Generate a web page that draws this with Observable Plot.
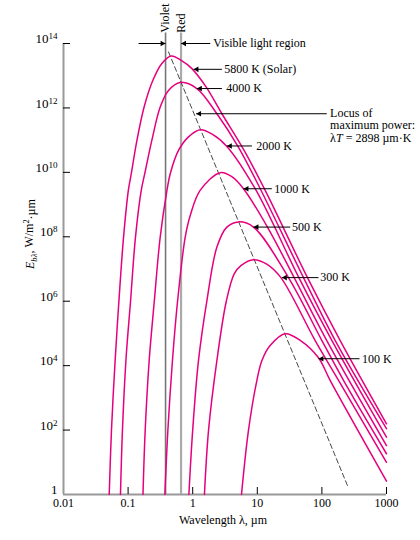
<!DOCTYPE html>
<html>
<head>
<meta charset="utf-8">
<script src="https://cdn.jsdelivr.net/npm/d3@7"></script>
<script src="https://cdn.jsdelivr.net/npm/@observablehq/plot@0.6"></script>
<style>
  body { margin: 0; background: #fff; }
</style>
</head>
<body>
<div id="chart"></div>
<script>
// Curvas de emisión: longitud de onda en µm, potencia espectral
const lam5800 = [0.051, 0.0553, 0.063, 0.072, 0.085, 0.101, 0.112, 0.137, 0.177, 0.242, 0.333, 0.464, 0.664, 0.972, 1.62, 2.83, 6.5, 13.2, 59.8, 192, 1000]
const e5800 = [1, 1e2, 1.45e4, 9.8e5, 9.6e7, 2.8e9, 9.1e9, 9.8e10, 1.07e12, 7.2e12, 2.4e13, 4.1e13, 3.0e13, 1.66e13, 4.4e12, 6.6e11, 4.2e10, 2.8e9, 5.4e6, 6.0e4, 157]

const lam4000 = [0.0762, 0.0818, 0.0925, 0.109, 0.130, 0.160, 0.181, 0.233, 0.314, 0.422, 0.64, 1.16, 2.37, 5.12, 11.1, 51.9, 161, 1000]
const e4000 = [1, 1e2, 1.45e4, 9.8e5, 9.6e7, 2.8e9, 9.1e9, 9.8e10, 1.07e12, 3.5e12, 6.2e12, 4.0e12, 6.6e11, 6.0e10, 3.1e9, 5.4e6, 6.0e4, 110]

const lam2000 = [0.17, 0.184, 0.212, 0.254, 0.314, 0.40, 0.449, 0.603, 0.861, 1.31, 2.0, 3.38, 9.27, 44, 143, 1000]
const e2000 = [1, 1e2, 1.45e4, 9.6e5, 9.8e7, 2.8e9, 9.1e9, 4.8e10, 1.26e11, 2.1e11, 1.54e11, 6.4e10, 3.1e9, 5.4e6, 6.0e4, 60]

const lam1000 = [0.371, 0.413, 0.486, 0.582, 0.766, 0.928, 1.31, 2.67, 4.08, 6.11, 14.8, 37.2, 119, 1000]
const e1000 = [1, 1e2, 1.45e4, 9.6e5, 9.8e7, 5.0e8, 2.8e9, 9.8e9, 7.2e9, 3.1e9, 1.8e8, 5.4e6, 6.0e4, 33]

const lam500 = [0.873, 1.0, 1.23, 1.66, 2.37, 3.38, 5.12, 8.73, 30.4, 100, 216, 1000]
const e500 = [1, 1e2, 1.45e4, 1.05e6, 4.8e7, 2.0e8, 2.9e8, 2.0e8, 5.4e6, 6.0e4, 3.5e3, 18.4]

const lam300 = [1.52, 1.76, 2.37, 3.30, 4.39, 5.63, 8.73, 14.2, 23.2, 78.7, 181, 1000]
const e300 = [1, 1e2, 1.45e4, 9.6e5, 7.1e6, 1.3e7, 1.95e7, 1.4e7, 5.4e6, 6.0e4, 3.5e3, 10]

const lam100 = [5.69, 7.31, 9.86, 11.8, 15.8, 27.0, 46.1, 88.5, 134, 1000]
const e100 = [1, 1e2, 3.5e3, 1.45e4, 4.2e4, 9.8e4, 6.1e4, 1.76e4, 3.5e3, 2.6]

// Lugar geométrico del máximo (λT = 2898 µm·K)
const locusLam = [0.422, 252]
const locusE = [5.5e13, 1.78]

// Región visible
const bandNames = ['Violet', 'Red']
const bandLam = [0.38, 0.66]
const bandColor = ['#777', '#aaa']

// Etiquetas de las curvas con flechas
const curveNames = ['5800 K (Solar)', '4000 K', '2000 K', '1000 K', '500 K', '300 K', '100 K']
const curveLabelE = [1.58e13, 4.0e12, 6.6e10, 3.1e9, 2.0e8, 5.4e6, 1.64e4]
const arrowTip = [1.03, 1.16, 3.38, 6.11, 8.73, 24.0, 88.5]
const arrowTail = [2.83, 2.83, 8.25, 16.8, 32.3, 88.5, 382]
const labelLam = [3.07, 3.30, 9.6, 18.3, 34.3, 94, 416]

// Ejes
const xTickVals = [0.1, 1, 10, 100, 1000]
const xLabelVals = [0.01, 0.1, 1, 10, 100, 1000]
const yTickVals = [1e2, 1e4, 1e6, 1e8, 1e10, 1e12, 1e14]
const yLabelVals = [1, 1e2, 1e4, 1e6, 1e8, 1e10, 1e12, 1e14]

const yTitle = 'Ebλ, W/m2·µm'
const xTitle = 'Wavelength λ, µm'
const locusText = 'Locus of\nmaximum power:\nλT = 2898 µm·K'

const curves = [
  [5800, lam5800, e5800], [4000, lam4000, e4000], [2000, lam2000, e2000],
  [1000, lam1000, e1000], [500, lam500, e500], [300, lam300, e300], [100, lam100, e100]
]
const rows = curves.flatMap(([T, lam, e]) => lam.map((l, i) => ({T, lam: l, E: e[i]})))
const locus = locusLam.map((l, i) => ({lam: l, E: locusE[i]}))
const bands = bandNames.map((n, i) => ({name: n, lam: bandLam[i], color: bandColor[i]}))
const labels = curveNames.map((n, i) => ({text: n, y: curveLabelE[i], tip: arrowTip[i], tail: arrowTail[i], x: labelLam[i]}))

// flechas: dir -1 apunta a la izquierda, +1 a la derecha
const arrows = [
  ...labels.map(d => ({x1: d.tail, x2: d.tip, y: d.y, dir: -1})),
  {x1: 0.145, x2: bandLam[0], y: 1e14, dir: 1},
  {x1: 1.87, x2: bandLam[1], y: 1e14, dir: -1},
  {x1: 119, x2: 1.13, y: 6.6e11, dir: -1}
]
const leftHeads = arrows.filter(d => d.dir < 0)
const rightHeads = arrows.filter(d => d.dir > 0)

let chart = Plot.plot({
  width: 420,
  height: 540,
  marginLeft: 63,
  marginRight: 34,
  marginTop: 43,
  marginBottom: 46,
  style: {fontFamily: '"Liberation Serif", serif', fontSize: '12px', background: '#fff', color: '#000'},
  x: {type: 'log', domain: [0.01, 1000], label: null},
  y: {type: 'log', domain: [1, 1e14], label: null},
  marks: [
    Plot.ruleX([0.01], {stroke: '#999', strokeWidth: 2}),
    Plot.ruleY([1], {stroke: '#999', strokeWidth: 2}),
    Plot.axisX(xTickVals, {tickSize: -7, tickFormat: () => '', label: null}),
    Plot.axisX(xLabelVals, {tickSize: 0, tickPadding: 4, tickFormat: d => String(d), label: null}),
    Plot.axisY(yTickVals, {tickSize: -7, tickFormat: () => '', label: null}),
    Plot.axisY(yLabelVals, {tickSize: 0, tickPadding: 6, dy: -4.5, fontSize: 13, label: null,
      tickFormat: d => d === 1 ? '1' : '10^' + Math.round(Math.log10(d))}),
    Plot.ruleX(bands, {x: 'lam', y1: 1, y2: 2.1e14, stroke: 'color', strokeWidth: d => d.name === 'Red' ? 2.2 : 1.6}),
    Plot.text(bands, {x: 'lam', y: 2.15e14, text: 'name', rotate: -90, textAnchor: 'start'}),
    Plot.line(locus, {x: 'lam', y: 'E', stroke: '#333', strokeWidth: 0.9, strokeDasharray: '5,3'}),
    Plot.line(rows, {x: 'lam', y: 'E', z: 'T', stroke: '#e6007e', strokeWidth: 1.5, curve: 'catmull-rom'}),
    Plot.link(arrows, {x1: 'x1', y1: 'y', x2: 'x2', y2: 'y', strokeWidth: 1}),
    Plot.dot(leftHeads, {x: 'x2', y: 'y', symbol: 'triangle', r: 2.1, rotate: -90, dx: 3.3, fill: '#000'}),
    Plot.dot(rightHeads, {x: 'x2', y: 'y', symbol: 'triangle', r: 2.1, rotate: 90, dx: -3.3, fill: '#000'}),
    Plot.text(labels, {x: 'x', y: 'y', text: 'text', textAnchor: 'start'}),
    Plot.text(['Visible light region'], {x: 2.08, y: 1e14, text: d => d, textAnchor: 'start'}),
    Plot.text([locusText], {x: 134, y: 2.9e11, text: d => d, textAnchor: 'start', lineHeight: 1.05}),
    Plot.text([yTitle], {frameAnchor: 'left', dx: -33, rotate: -90, text: d => d}),
    Plot.text([xTitle], {frameAnchor: 'bottom', dx: -2, dy: 29, text: d => d})
  ]
})

// superíndices y subíndices en los textos
d3.select(chart).selectAll('text').each(function () {
  const t = this.textContent
  const m = /^10\^(\d+)$/.exec(t)
  if (m) {
    this.textContent = ''
    d3.select(this).append('tspan').text('10')
    d3.select(this).append('tspan').attr('dy', '-0.45em').attr('font-size', '0.7em').text(m[1])
  } else if (t === yTitle) {
    this.innerHTML = '<tspan font-style="italic">E</tspan><tspan font-style="italic" font-size="0.72em" dy="0.35em">bλ</tspan>' +
      '<tspan dy="-0.35em">, W/m</tspan><tspan font-size="0.7em" dy="-0.45em">2</tspan><tspan dy="0.45em">·µm</tspan>'
  }
})
d3.select(chart).selectAll('tspan').each(function () {
  if (this.textContent === 'λT = 2898 µm·K') {
    this.innerHTML = 'λ<tspan font-style="italic">T</tspan> = 2898 µm·K'
  }
})

d3.select('#chart').append(() => chart)
</script>
</body>
</html>
